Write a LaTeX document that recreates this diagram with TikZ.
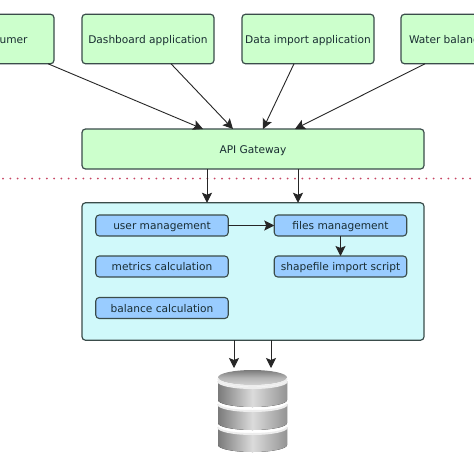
\documentclass[tikz,border=0pt]{standalone}
\usepackage{fontspec}
\setmainfont{DejaVu Sans}
\usetikzlibrary{arrows.meta, positioning, calc}
\definecolor{appgreen}{RGB}{204,255,204}
\definecolor{svccyan}{RGB}{208,249,250}
\definecolor{modblue}{RGB}{153,204,255}
\definecolor{edgecol}{RGB}{58,76,74}
\definecolor{sepred}{RGB}{200,70,100}
\definecolor{textcol}{RGB}{25,45,50}
\tikzset{
  appbox/.style={rectangle,draw=edgecol,fill=appgreen,rounded corners=3.5pt,line width=1.2pt,
    minimum height=49.5pt,outer sep=0pt,inner sep=0pt,text height=9pt,text depth=1pt,
    font=\fontsize{10.6}{12}\selectfont,text=textcol},
  modbox/.style={rectangle,draw=edgecol,fill=modblue,rounded corners=3.5pt,line width=1.1pt,
    minimum width=132.5pt,minimum height=21pt,outer sep=0pt,inner sep=0pt,text height=9pt,text depth=1pt,
    font=\fontsize{10.6}{12}\selectfont,text=textcol},
  flowarrow/.style={-{Stealth[length=10pt,width=10pt,inset=2pt]},line width=0.9pt,black!85},
  dbband/.style={left color=black!52,right color=black!42,middle color=black!14},
}
\begin{document}
\begin{tikzpicture}[x=1pt,y=-1pt,node distance=28pt]
  \clip (0,0) rectangle (474,474);
  \fill[white] (0,0) rectangle (474,474);
  \node[appbox,minimum width=81pt] (consumer) at (13.5,39) {umer};
  \node[appbox,minimum width=132pt] (dashboard) at (148,39) {Dashboard application};
  \node[appbox,minimum width=132pt,right=of dashboard] (dataimport) {Data import application};
  \node[appbox,minimum width=86pt] (water) at (444,39) {Water balanc};
  \node[appbox,minimum width=342pt,minimum height=40pt] (gateway) at (253,149) {API Gateway};
  \draw[sepred,line width=2pt,line cap=round,dash pattern=on 0pt off 7.3pt] (3,178.5) -- (474,178.5);
  \node[rectangle,draw=edgecol,fill=svccyan,rounded corners=3.5pt,line width=1.2pt,minimum width=342pt,
    minimum height=137.5pt,outer sep=0pt] (service) at (253,271.5) {};
  \node[modbox] (usermgmt) at (162,225.5) {user management};
  \node[modbox] (metrics) at (162,266.5) {metrics calculation};
  \node[modbox] (balance) at (162,308) {balance calculation};
  \node[modbox] (filesmgmt) at (340.5,225.5) {files management};
  \node[modbox] (shapefile) at (340.5,266.5) {shapefile import script};
  \node[minimum width=69pt,minimum height=84pt,inner sep=0pt,outer sep=0pt] (db) at (252.5,410) {};
  % database drum
  \foreach \top/\bot in {427/445,404/423,381/400} {
    \fill[dbband] (218,\top) -- (218,\bot) arc[start angle=180,end angle=360,x radius=34.5,y radius=-7]
      -- (287,\top) arc[start angle=360,end angle=180,x radius=34.5,y radius=-7] -- cycle;
    \draw[black!7,line width=2pt] (218,\top) arc[start angle=180,end angle=360,x radius=34.5,y radius=-7];
  }
  \shade[top color=black!52,bottom color=black!18,middle color=black!30] (252.5,377.5) ellipse[x radius=34.5,y radius=7.5];
  \draw[black!7,line width=1.6pt] (218,378.5) arc[start angle=180,end angle=360,x radius=34.5,y radius=-7.5];
  % connectors
  \draw[flowarrow] ($(consumer.south east)+(-6,0)$) -- ($(gateway.north west)+(121,0)$);
  \draw[flowarrow] ($(dashboard.south west)+(89,0)$) -- ($(gateway.north west)+(151,0)$);
  \draw[flowarrow] ($(dataimport.south west)+(52,0)$) -- ($(gateway.north west)+(181,0)$);
  \draw[flowarrow] ($(water.south west)+(24,0)$) -- ($(gateway.north west)+(213,0)$);
  \draw[flowarrow] ($(gateway.south west)+(125,0)$) -- ($(service.north west)+(125,0)$);
  \draw[flowarrow] ($(gateway.south west)+(216,0)$) -- ($(service.north west)+(216,0)$);
  \draw[flowarrow] (usermgmt) -- (filesmgmt);
  \draw[flowarrow] (filesmgmt) -- (shapefile);
  \draw[flowarrow] ($(service.south west)+(152,0)$) -- ($(db.north west)+(16,0)$);
  \draw[flowarrow] ($(service.south west)+(189,0)$) -- ($(db.north west)+(53,0)$);
\end{tikzpicture}
\end{document}
